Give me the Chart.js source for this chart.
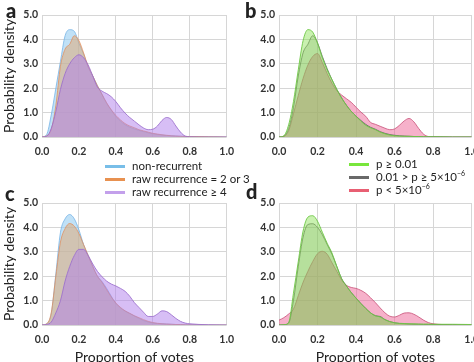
<!DOCTYPE html>
<html>
<head>
<meta charset="utf-8">
<script src="https://cdn.jsdelivr.net/npm/chart.js@4"></script>
<style>
  html, body { margin: 0; padding: 0; background: #fff; overflow: hidden; }
  body { width: 474px; height: 362px; position: relative; font-family: Lato, sans-serif; color: #222; }
  canvas { position: absolute; }
  .tag { position: absolute; font: 900 20px Lato, sans-serif; line-height: 1; }
  .legend { position: absolute; font: 11.5px Lato, sans-serif; color: #222; }
  .legend div { height: 13px; line-height: 13px; white-space: nowrap; }
  .legend span.ln { display: inline-block; width: 20px; height: 3px; vertical-align: middle; margin-right: 7px; position: relative; top: -1px; }
  sup { font-size: 7px; line-height: 0; }
</style>
</head>
<body>
<canvas id="chartA" width="242" height="157" style="left:0;top:0"></canvas>
<canvas id="chartB" width="250" height="157" style="left:237px;top:0"></canvas>
<canvas id="chartC" width="242" height="181" style="left:0;top:188px"></canvas>
<canvas id="chartD" width="250" height="181" style="left:237px;top:188px"></canvas>

<div class="tag" style="left:6px;top:0">a</div>
<div class="tag" style="left:245px;top:0">b</div>
<div class="tag" style="left:5px;top:183px">c</div>
<div class="tag" style="left:246px;top:181px">d</div>

<div class="legend" style="left:105px;top:159px">
  <div><span class="ln" style="background:rgb(120,190,232)"></span>non-recurrent</div>
  <div><span class="ln" style="background:rgb(232,145,80)"></span>raw recurrence = 2 or 3</div>
  <div><span class="ln" style="background:rgb(195,160,235)"></span>raw recurrence ≥ 4</div>
</div>
<div class="legend" style="left:349px;top:157px">
  <div><span class="ln" style="background:rgb(120,230,60)"></span>p ≥ 0.01</div>
  <div><span class="ln" style="background:rgb(105,105,105)"></span>0.01 &gt; p ≥ 5×10<sup>−6</sup></div>
  <div><span class="ln" style="background:rgb(232,95,115)"></span>p &lt; 5×10<sup>−6</sup></div>
</div>

<script>
// proportion of votes (x positions shared by every curve)
var xs = [0, 0.025, 0.05, 0.075, 0.1, 0.125, 0.15, 0.175, 0.2, 0.225, 0.25, 0.275, 0.3, 0.325, 0.35, 0.375,
  0.4, 0.425, 0.45, 0.475, 0.5, 0.525, 0.55, 0.575, 0.6, 0.625, 0.65, 0.675, 0.7, 0.725, 0.75, 0.775, 0.8, 0.9, 1.0];

// panel a
var aNonRecurrent = [0, 0.1, 0.9, 2.0, 3.1, 4.15, 4.4, 4.33, 3.85, 3.4, 2.85, 2.5, 2.1, 1.75, 1.38, 1.1,
  0.84, 0.65, 0.5, 0.4, 0.33, 0.27, 0.22, 0.17, 0.13, 0.1, 0.08, 0.06, 0.05, 0.04, 0.03, 0.02, 0.02, 0.01, 0];
var aRaw23 = [0, 0.05, 0.3, 1.3, 2.9, 3.6, 3.8, 4.15, 3.95, 3.45, 2.9, 2.5, 2.1, 1.75, 1.4, 1.12,
  0.88, 0.7, 0.55, 0.45, 0.38, 0.3, 0.25, 0.2, 0.15, 0.12, 0.09, 0.07, 0.05, 0.04, 0.03, 0.02, 0.02, 0.01, 0];
var aRaw4 = [0, 0.03, 0.35, 1.05, 1.95, 2.6, 3.0, 3.25, 3.37, 3.25, 2.95, 2.5, 2.05, 1.88, 1.78, 1.65,
  1.45, 1.2, 0.98, 0.8, 0.65, 0.5, 0.37, 0.3, 0.32, 0.45, 0.68, 0.8, 0.72, 0.45, 0.2, 0.04, 0.01, 0, 0];

// panel b
var bHigh = [0, 0.05, 0.5, 1.45, 2.75, 3.95, 4.4, 4.3, 3.85, 3.25, 2.75, 2.35, 1.95, 1.6, 1.3, 1.05,
  0.85, 0.65, 0.48, 0.38, 0.3, 0.2, 0.13, 0.08, 0.05, 0.04, 0.03, 0.03, 0.02, 0.02, 0.01, 0.01, 0.01, 0, 0];
var bMid = [0, 0.03, 0.35, 1.2, 2.5, 3.45, 3.8, 4.15, 3.85, 3.3, 2.8, 2.35, 1.95, 1.6, 1.3, 1.05,
  0.85, 0.68, 0.52, 0.4, 0.32, 0.22, 0.15, 0.1, 0.07, 0.05, 0.04, 0.03, 0.02, 0.02, 0.01, 0.01, 0.01, 0, 0];
var bLow = [0, 0.03, 0.25, 0.95, 1.7, 2.4, 2.95, 3.3, 3.42, 3.05, 2.6, 2.2, 1.9, 1.72, 1.57, 1.42,
  1.22, 1.02, 0.85, 0.6, 0.52, 0.44, 0.36, 0.3, 0.33, 0.48, 0.66, 0.76, 0.62, 0.35, 0.12, 0.02, 0.01, 0, 0];

// panel c
var cNonRecurrent = [0, 0.05, 0.45, 2.1, 3.8, 4.35, 4.53, 4.35, 3.9, 3.3, 2.85, 2.4, 2.0, 1.78, 1.5, 1.18,
  0.88, 0.7, 0.57, 0.47, 0.37, 0.27, 0.18, 0.12, 0.08, 0.06, 0.05, 0.04, 0.03, 0.02, 0.02, 0.01, 0.01, 0, 0];
var cRaw23 = [0, 0.05, 0.5, 2.0, 3.4, 3.95, 4.16, 4.05, 3.75, 3.3, 2.85, 2.4, 2.0, 1.75, 1.45, 1.15,
  0.9, 0.72, 0.58, 0.48, 0.38, 0.3, 0.22, 0.15, 0.1, 0.07, 0.05, 0.04, 0.03, 0.02, 0.02, 0.01, 0.01, 0, 0];
var cRaw4 = [0, 0.02, 0.12, 0.5, 1.0, 1.8, 2.4, 2.85, 3.1, 3.1, 2.85, 2.5, 2.2, 1.98, 1.8, 1.68,
  1.6, 1.5, 1.38, 1.18, 0.92, 0.72, 0.52, 0.35, 0.35, 0.45, 0.58, 0.55, 0.42, 0.27, 0.15, 0.08, 0.05, 0.01, 0];

// panel d
var dHigh = [0, 0.01, 0.1, 1.3, 2.6, 3.85, 4.42, 4.48, 4.25, 3.8, 3.35, 2.95, 2.4, 1.9, 1.6, 1.33,
  1.1, 0.88, 0.68, 0.5, 0.38, 0.33, 0.22, 0.14, 0.09, 0.07, 0.06, 0.05, 0.05, 0.04, 0.04, 0.04, 0.03, 0.03, 0.02];
var dMid = [0, 0.01, 0.08, 1.0, 2.4, 3.6, 4.12, 4.15, 4.0, 3.7, 3.3, 2.9, 2.4, 1.9, 1.6, 1.33,
  1.1, 0.88, 0.68, 0.5, 0.38, 0.35, 0.22, 0.14, 0.09, 0.06, 0.05, 0.04, 0.03, 0.03, 0.02, 0.02, 0.02, 0.01, 0];
var dLow = [0.2, 0.3, 0.45, 0.65, 1.2, 1.75, 2.2, 2.6, 2.92, 3.02, 2.9, 2.55, 2.2, 1.85, 1.63, 1.54,
  1.5, 1.42, 1.3, 1.12, 0.92, 0.7, 0.5, 0.36, 0.33, 0.4, 0.49, 0.5, 0.44, 0.33, 0.2, 0.1, 0.05, 0.01, 0];

var xTicks = [0, 0.2, 0.4, 0.6, 0.8, 1.0];
var yTicks = [0, 1, 2, 3, 4, 5];

var recurrenceColors = [
  { fill: 'rgba(175,125,235,0.5)', line: 'rgba(155,110,205,0.85)' },
  { fill: 'rgba(225,165,110,0.5)', line: 'rgba(225,140,90,0.75)' },
  { fill: 'rgba(150,205,242,0.6)', line: 'rgba(120,180,230,0.8)' }
];
var pColors = [
  { fill: 'rgba(135,225,80,0.45)', line: 'rgba(110,200,70,0.9)' },
  { fill: 'rgba(120,130,110,0.25)', line: 'rgba(95,95,95,0.8)' },
  { fill: 'rgba(238,100,150,0.5)', line: 'rgba(200,80,120,0.8)' }
];

function pts(arr) {
  return xs.map(function (x, i) { return { x: x, y: arr[i] }; });
}

function makeChart(id, series, colors, yTitle, xTitle, leftPad, rightPad) {
  var ctx = document.getElementById(id).getContext('2d');
  return new Chart(ctx, {
    type: 'line',
    data: {
      datasets: series.map(function (s, i) {
        return {
          data: pts(s),
          fill: 'origin',
          backgroundColor: colors[i].fill,
          borderColor: colors[i].line,
          borderWidth: 1,
          pointRadius: 0,
          tension: 0.4,
          cubicInterpolationMode: 'monotone'
        };
      })
    },
    options: {
      responsive: false,
      animation: false,
      devicePixelRatio: 1,
      layout: { padding: { top: 15, left: leftPad, right: rightPad, bottom: 0 } },
      plugins: { legend: { display: false }, tooltip: { enabled: false } },
      scales: {
        x: {
          type: 'linear', min: 0, max: 1,
          afterBuildTicks: function (s) { s.ticks = xTicks.map(function (v) { return { value: v }; }); },
          afterFit: function (s) { s.height = xTitle ? 44 : 20; },
          border: { display: false },
          grid: { color: '#d6d6d6', drawTicks: false },
          ticks: {
            padding: 8, color: '#333', font: { family: 'Lato', size: 10.5, weight: 'bold' },
            maxRotation: 0, autoSkip: false,
            callback: function (v) { return v.toFixed(1); }
          },
          title: { display: !!xTitle, text: xTitle, color: '#222', font: { family: 'Lato', size: 14 }, padding: { top: 2, bottom: 3 } }
        },
        y: {
          min: 0, max: 5,
          afterBuildTicks: function (s) { s.ticks = yTicks.map(function (v) { return { value: v }; }); },
          afterFit: function (s) { s.width = 42; },
          border: { display: false },
          grid: { color: '#d6d6d6', drawTicks: false },
          ticks: {
            padding: 4, color: '#333', font: { family: 'Lato', size: 10.5, weight: 'bold' },
            callback: function (v) { return v.toFixed(1); }
          },
          title: { display: !!yTitle, text: yTitle, color: '#222', font: { family: 'Lato', size: 14 }, padding: { top: 1, bottom: 0 } }
        }
      }
    }
  });
}

makeChart('chartA', [aRaw4, aRaw23, aNonRecurrent], recurrenceColors, 'Probability density', '', 0, 8);
makeChart('chartB', [bHigh, bMid, bLow], pColors, '', '', 0, 13);
makeChart('chartC', [cRaw4, cRaw23, cNonRecurrent], recurrenceColors, 'Probability density', 'Proportion of votes', 0, 8);
makeChart('chartD', [dHigh, dMid, dLow], pColors, '', 'Proportion of votes', 0, 13);
</script>
</body>
</html>
